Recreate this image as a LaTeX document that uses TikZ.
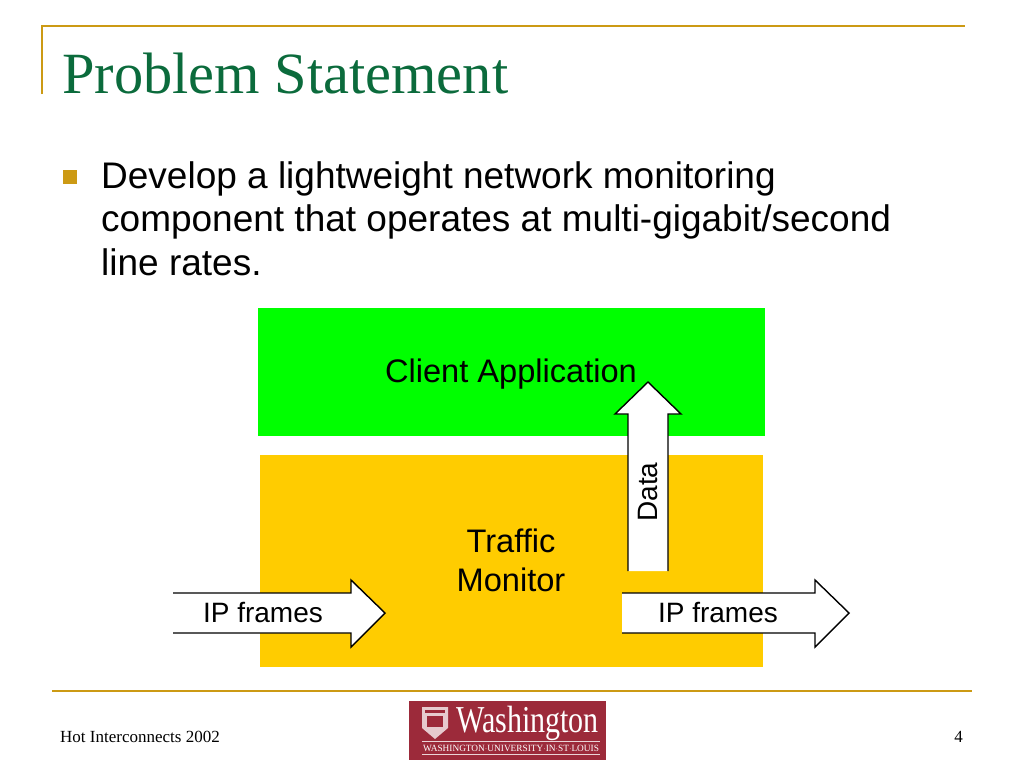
\documentclass[tikz,border=0pt]{standalone}
\usepackage{fontspec}
\setmainfont{Liberation Sans}
\newfontfamily\titlefont{Liberation Serif}
\definecolor{rulegold}{HTML}{CC9A14}
\definecolor{titlegreen}{HTML}{0B6B3C}
\definecolor{monitoryellow}{HTML}{FFCC00}
\definecolor{clientgreen}{HTML}{00FF00}
\definecolor{logored}{HTML}{9C2A3A}
\tikzset{
  rule/.style = {draw=rulegold, line width=2pt},
  box/.style = {inner sep=0pt, outer sep=0pt, anchor=north west},
  label/.style = {inner sep=0pt, font=\fontsize{28}{34}\selectfont, align=center},
  biglabel/.style = {label, font=\fontsize{32.6}{39}\selectfont},
  arrowfill/.style = {fill=white},
  arrowline/.style = {draw=black, line width=1.4pt, line join=miter},
  logotext/.style = {inner sep=0pt, text=white, font=\titlefont}
}
\begin{document}
\begin{tikzpicture}[x=1pt,y=-1pt]
  \useasboundingbox (0,0) rectangle (1024,768);

  % title and rules
  \draw[rule] (42,94) -- (42,26) -- (965,26);
  \draw[rule] (52,691) -- (972,691);
  \node[inner sep=0pt, anchor=base west, text=titlegreen, font=\titlefont\fontsize{58.4}{62}\selectfont] (title) at (62,93) {Problem Statement};

  % bullet text
  \node[fill=rulegold, inner sep=0pt, minimum size=14pt] (bullet) at (70,177) {};
  \node[inner sep=0pt, anchor=base west, align=left, font=\fontsize{37}{43.5}\selectfont] (body) at (101,275)
    {Develop a lightweight network monitoring\\component that operates at multi-gigabit/second\\line rates.};

  % boxes
  \node[box, fill=clientgreen, minimum width=507pt, minimum height=128pt] (client) at (258,308) {};
  \node[box, fill=monitoryellow, minimum width=503pt, minimum height=212pt] (monitor) at (260,455) {};
  \node[biglabel] (clientlabel) at (511,374) {Client Application};
  \node[biglabel] (monitorlabel) at (511,560) {Traffic\\Monitor};

  % data arrow
  \fill[arrowfill] (628,571) -- (628,414) -- (615,414) -- (648,382) -- (681,414) -- (668,414) -- (668,571) -- cycle;
  \draw[arrowline] (628,571) -- (628,414) -- (615,414) -- (648,382) -- (681,414) -- (668,414) -- (668,571);
  \node[label, rotate=90] (datalabel) at (648,492) {Data};

  % frame arrows
  \foreach \name/\xa/\xb/\xc in {in/173/351/385, out/622/815/849} {
    \fill[arrowfill] (\xa,593) -- (\xb,593) -- (\xb,580) -- (\xc,613) -- (\xb,647) -- (\xb,633) -- (\xa,633) -- cycle;
    \draw[arrowline] (\xa,593) -- (\xb,593) -- (\xb,580) -- (\xc,613) -- (\xb,647) -- (\xb,633) -- (\xa,633);
  }
  \node[label] (framesin) at (263,612) {IP frames};
  \node[label] (framesout) at (718,612) {IP frames};

  % footer
  \node[inner sep=0pt, anchor=base west, font=\titlefont\fontsize{17}{20}\selectfont] (footer) at (60,742) {Hot Interconnects 2002};
  \node[inner sep=0pt, anchor=base east, font=\titlefont\fontsize{17}{20}\selectfont] (pagenum) at (963,742) {4};

  % logo
  \node[box, fill=logored, minimum width=197pt, minimum height=59pt] (logo) at (409,701) {};
  \fill[white!75!logored] (422,707) -- (448,707) -- (448,728) -- (435,739) -- (422,728) -- cycle;
  \fill[logored] (427,716) rectangle (443,727);
  \fill[logored] (425,710) rectangle (445,713);
  \node[logotext, anchor=base west, font=\titlefont\fontsize{38}{41}\selectfont] (logoname) at (456,732) {\scalebox{0.79}[1]{Washington}};
  \draw[white!80!logored, line width=0.5pt] (422,741) -- (600,741) (422,754) -- (600,754);
  \node[logotext, anchor=base, font=\titlefont\fontsize{9.5}{11}\selectfont] (logosub) at (511,751) {\scalebox{0.98}[1]{WASHINGTON$\cdot$UNIVERSITY$\cdot$IN$\cdot$ST$\cdot$LOUIS}};
\end{tikzpicture}
\end{document}
